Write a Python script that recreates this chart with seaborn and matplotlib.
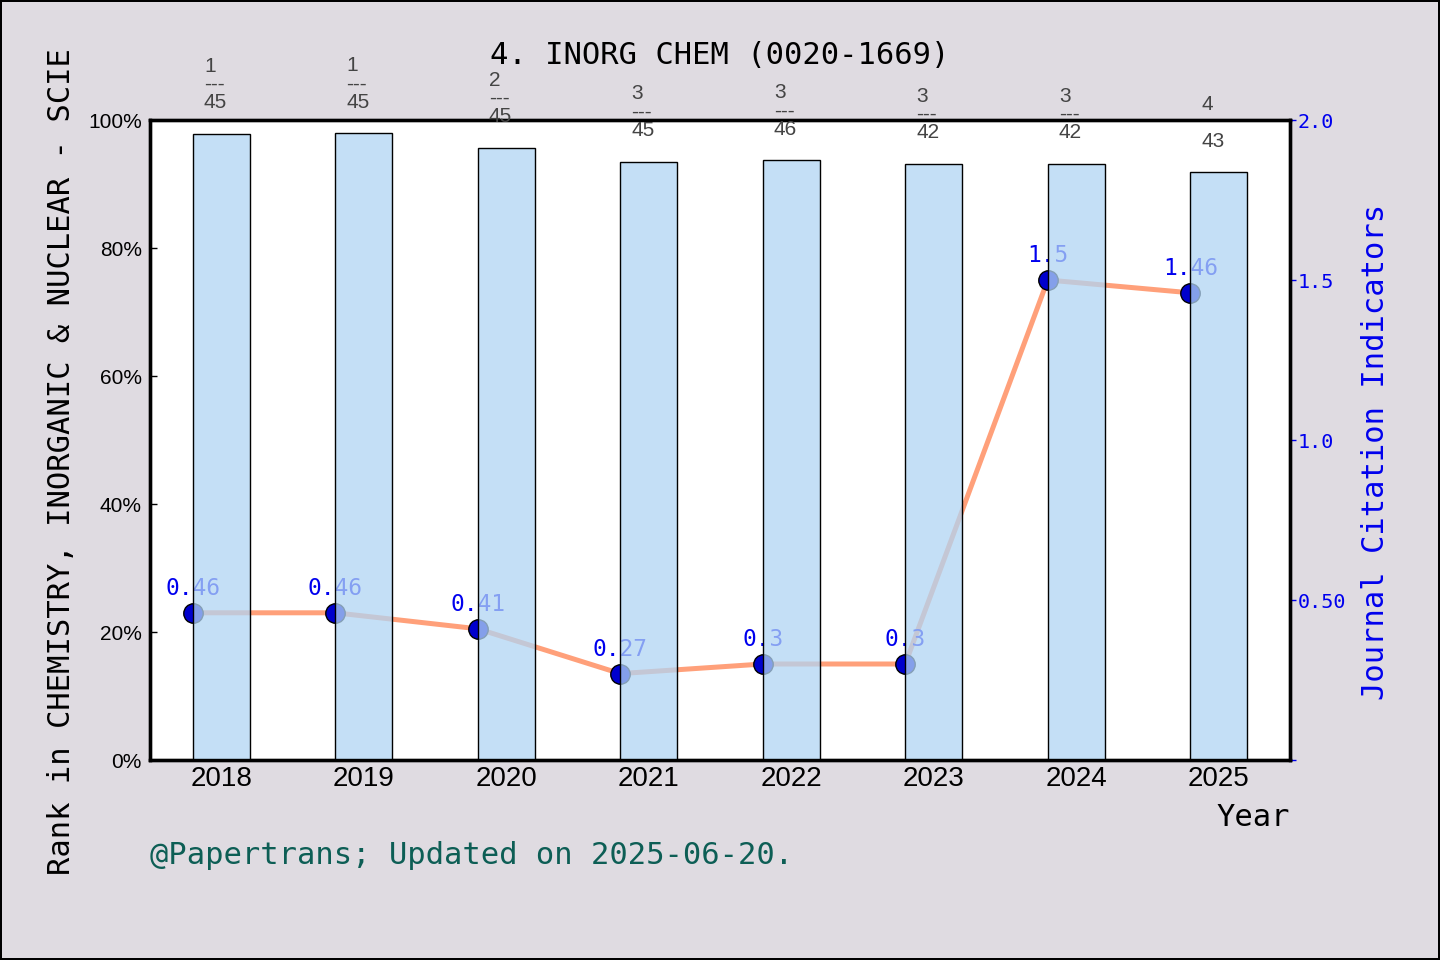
import numpy as np
import matplotlib
matplotlib.use("Agg")
import matplotlib.pyplot as plt
import seaborn as sns
from matplotlib import font_manager
from matplotlib.ticker import FixedLocator

sns.set_style("white")

mono = "DejaVu Sans Mono"
names = {f.name for f in font_manager.fontManager.ttflist}
narrow = "Liberation Sans Narrow" if "Liberation Sans Narrow" in names else "Liberation Sans"
plt.rcParams["font.family"] = [mono, "DejaVu Sans"]
plt.rcParams.update({
    "text.color": "black",
    "axes.labelcolor": "black",
    "xtick.color": "black",
    "ytick.color": "black",
})

# data
years = ["2018", "2019", "2020", "2021", "2022", "2023", "2024", "2025"]
rank_pct = [97.8, 97.9, 95.6, 93.5, 93.7, 93.1, 93.1, 91.8]
rank_labels = ["1\n---\n45", "1\n---\n45", "2\n---\n45", "3\n---\n45",
               "3\n---\n46", "3\n---\n42", "3\n---\n42", "4\n \n43"]
jci = [0.46, 0.46, 0.41, 0.27, 0.3, 0.3, 1.5, 1.46]

bg = "#dfdbe1"
bar_rgba = (177 / 255, 213 / 255, 244 / 255, 0.75)
blue = "#0000ee"

fig = plt.figure(figsize=(14.4, 9.6), dpi=100, facecolor=bg,
                 edgecolor="black", linewidth=1.5)
ax = fig.add_axes([150 / 1440, 1 - 760 / 960, 1140 / 1440, 640 / 960])
ax2 = ax.twinx()

# line sits under the bars, bars are semi transparent on top
ax.set_zorder(ax2.get_zorder() + 1)
ax.patch.set_visible(False)
ax2.patch.set_visible(True)
ax2.set_facecolor("white")

x = np.arange(len(years))
sns.barplot(x=years, y=rank_pct, ax=ax, width=0.4, color=bar_rgba[:3],
            saturation=1, edgecolor="black", linewidth=1)
for p in ax.patches:
    p.set_facecolor(bar_rgba)   # alpha on the fill only, edge stays black

sns.lineplot(x=x - 0.2, y=jci, ax=ax2, color="#ffa07a", linewidth=3.6,
             marker="o", markersize=14, markerfacecolor="mediumblue",
             markeredgecolor="black", markeredgewidth=1)

for xi, v in zip(x - 0.2, jci):
    ax2.annotate(f"{v:g}", (xi, v), xytext=(0, 9), textcoords="offset points",
                 ha="center", va="bottom", color=blue, fontsize=16.5,
                 family=mono)

for xi, h, lab in zip(x, rank_pct, rank_labels):
    ax.text(xi - 0.04, h + 3.4, lab, ha="center", va="bottom",
            multialignment="left", color="#444444", fontsize=15,
            family=narrow, linespacing=0.95)

ax.set_xlim(-0.5, 7.5)
ax.set_ylim(0, 100)
ax2.set_ylim(0, 2.0)

ax.set_yticks(range(0, 101, 20))
ax.set_yticklabels([f"{t}%" for t in range(0, 101, 20)], family=narrow,
                   fontsize=15)
ax.tick_params(axis="y", direction="in", length=5, width=1, pad=6)
ax.set_xticks(x)
ax.set_xticklabels(years, family="Liberation Sans", fontsize=20)
ax.xaxis.set_minor_locator(FixedLocator(x[:-1] + 0.5))
ax.tick_params(axis="x", which="major", length=0, pad=4)
ax.tick_params(axis="x", which="minor", direction="in", length=6, width=1)
ax.set_xlabel("")
ax.set_ylabel("")

ax2.set_yticks([0, 0.5, 1.0, 1.5, 2.0])
ax2.set_yticklabels(["", "0.50", "1.0", "1.5", "2.0"], family=mono,
                    fontsize=14.5, color=blue)
ax2.tick_params(axis="y", direction="out", length=4, width=1, colors=blue,
                pad=1.5)

for a in (ax, ax2):
    for s in a.spines.values():
        s.set_linewidth(2.4)
        s.set_color("black")

fig.text(0.5, 1 - 56 / 960, "4. INORG CHEM (0020-1669)", ha="center",
         va="center", fontsize=22, family=mono)
fig.text(62 / 1440, 1 - 462 / 960,
         "Rank in CHEMISTRY, INORGANIC & NUCLEAR - SCIE", rotation=90,
         ha="center", va="center", fontsize=22, family=mono)
fig.text(1375 / 1440, 1 - 452 / 960, "Journal Citation Indicators",
         rotation=90, ha="center", va="center", fontsize=22, family=mono,
         color=blue)
fig.text(1290 / 1440, 1 - 817 / 960, "Year", ha="right", va="center",
         fontsize=22, family=mono)
fig.text(150 / 1440, 1 - 855 / 960, "@Papertrans; Updated on 2025-06-20.",
         ha="left", va="center", fontsize=22, family=mono, color="#0d5e55")

fig.savefig("out.png", dpi=100, facecolor=bg, edgecolor="black")
plt.close(fig)
